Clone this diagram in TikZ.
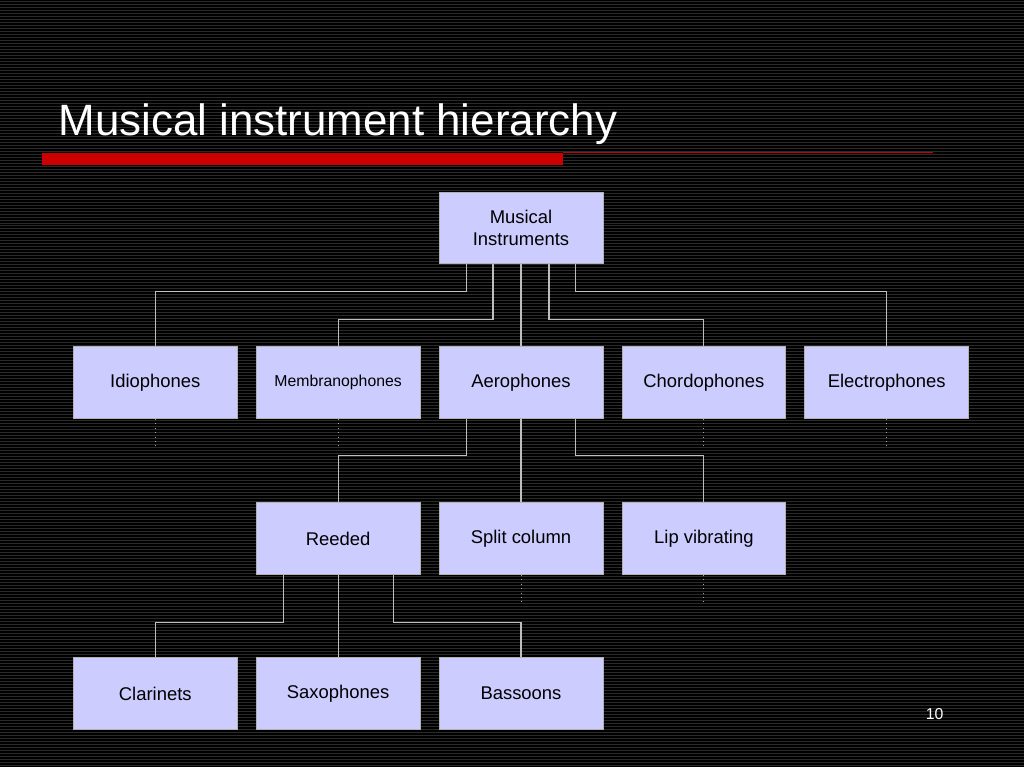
\documentclass[tikz,border=0pt]{standalone}
\usepackage{fontspec}
\setmainfont{Liberation Sans}
\usetikzlibrary{positioning, calc}
\definecolor{boxfill}{HTML}{CCCCFF}
\definecolor{slidered}{HTML}{CC0000}
\definecolor{stripe}{HTML}{2A2A2A}
\definecolor{linkgray}{HTML}{BFBFBF}

\begin{document}
\begin{tikzpicture}[x=0.02cm, y=-0.02cm,
      box/.style={draw=gray!60, fill=boxfill, minimum width=3.28cm,
                  minimum height=1.44cm, inner sep=1pt, align=center,
                  font=\fontsize{10.5}{12.5}\selectfont},
      link/.style={linkgray, line width=0.6pt},
      stub/.style={gray!70, dotted, line width=0.5pt},
    ]
    % ── Background ──
    \fill[black] (0,0) rectangle (1024,768);
    \foreach \yy in {1,4,...,766}
      \draw[stripe, line width=0.4pt] (0,\yy) -- (1024,\yy);
    \useasboundingbox (0,0) rectangle (1024,768);

    % ── Title and rule ──
    \node[anchor=base west, white, font=\fontsize{25}{30}\selectfont]
          (title) at (52,136) {Musical instrument hierarchy};
    \fill[slidered] (42,153) rectangle (563,165);
    \draw[slidered, line width=0.5pt] (563,153) -- (933,153);

    % ── Level 0 ──
    \node[box] (root) at (521,228) {Musical\\Instruments};

    % ── Level 1 ──
    \node[box] (idio)    at (155,383) {Idiophones};
    \node[box, font=\fontsize{9}{11}\selectfont] (membr) at (338,383) {Membranophones};
    \node[box] (aero)    at (521,383) {Aerophones};
    \node[box] (chord)   at (704,383) {Chordophones};
    \node[box] (electro) at (887,383) {Electrophones};

    % ── Level 2 ──
    \node[box] (reeded) at (338,539) {Reeded};
    \node[box] (split)  at (521,539) {Split column};
    \node[box] (lip)    at (704,539) {Lip vibrating};

    % ── Level 3 ──
    \node[box] (clar) at (155,694) {Clarinets};
    \node[box] (sax)  at (338,694) {Saxophones};
    \node[box] (bass) at (521,694) {Bassoons};

    % root -> level 1
    \draw[link] ([xshift=-1.1cm]root.south) -- ++(0,27) -| (idio.north);
    \draw[link] ([xshift=-0.56cm]root.south) -- ++(0,55) -| (membr.north);
    \draw[link] (root.south) -- (aero.north);
    \draw[link] ([xshift=0.56cm]root.south) -- ++(0,55) -| (chord.north);
    \draw[link] ([xshift=1.1cm]root.south) -- ++(0,27) -| (electro.north);

    % aerophones -> level 2
    \draw[link] ([xshift=-1.1cm]aero.south) -- ++(0,36) -| (reeded.north);
    \draw[link] (aero.south) -- (split.north);
    \draw[link] ([xshift=1.1cm]aero.south) -- ++(0,36) -| (lip.north);

    % reeded -> level 3
    \draw[link] ([xshift=-1.1cm]reeded.south) -- ++(0,48) -| (clar.north);
    \draw[link] (reeded.south) -- (sax.north);
    \draw[link] ([xshift=1.1cm]reeded.south) -- ++(0,48) -| (bass.north);

    % dotted stubs
    \foreach \n in {idio, membr, chord, electro, split, lip}
      \draw[stub] (\n.south) -- ++(0,28);

    % page number
    \node[white, font=\fontsize{9}{11}\selectfont] (page) at (935,715) {10};
\end{tikzpicture}
\end{document}
